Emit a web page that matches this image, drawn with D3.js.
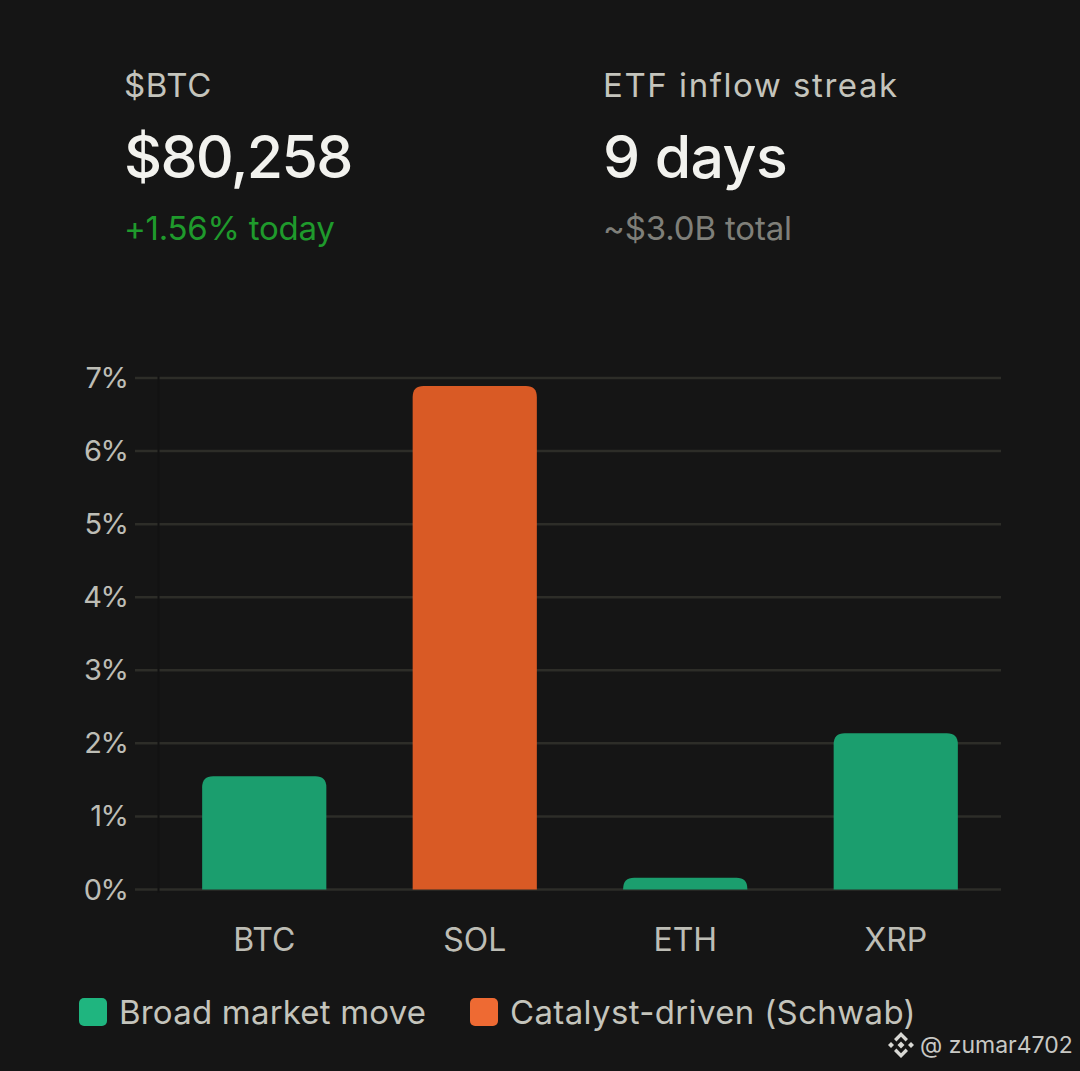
<!DOCTYPE html>
<html><head><meta charset="utf-8">
<script src="https://cdn.jsdelivr.net/npm/d3@7"></script>
<style>
html,body{margin:0;padding:0;background:#151515;overflow:hidden}
text{font-family:Inter,"Open Sans",sans-serif}
</style></head><body>
<svg id="c" width="1080" height="1071"></svg>
<script>
const categories = ["BTC","SOL","ETH","XRP"];
const values = [1.55,6.89,0.16,2.14];
const groups = ["broad","catalyst","broad","broad"];
const yTicks = [0,1,2,3,4,5,6,7];
const legendLabels = ["Broad market move","Catalyst-driven (Schwab)"];
const statTitles = ["$BTC","ETF inflow streak"];
const statValues = ["$80,258","9 days"];
const statNotes = ["+1.56% today","~$3.0B total"];

const svg = d3.select("#c");
const bg = "#151515";
svg.append("rect").attr("width",1080).attr("height",1071).attr("fill",bg);

// header stats
const statX = [124,603], noteCol = ["#1f9a2c","#7f7f79"];
const titleSpacing = [0.7,1.55], valueSpacing = [-1.7,-0.6], noteSpacing = [-0.25,-0.15];
statTitles.forEach((t,i)=>{
  svg.append("text").attr("x",statX[i]).attr("y",97).attr("font-size",33).attr("letter-spacing",titleSpacing[i]).attr("fill","#c4c4bc").text(t);
  svg.append("text").attr("x",statX[i]).attr("y",178).attr("font-size",59).attr("font-weight",550).attr("letter-spacing",valueSpacing[i]).attr("fill","#f2f2ee").text(statValues[i]);
  svg.append("text").attr("x",statX[i]).attr("y",240).attr("font-size",33).attr("letter-spacing",noteSpacing[i]).attr("fill",noteCol[i]).text(statNotes[i]);
});

// scales
const x = d3.scaleBand().domain(categories).range([159,1001]).paddingInner(0.41).paddingOuter(0.205);
const y = d3.scaleLinear().domain([0,7]).range([889.5,378]);
const color = d3.scaleOrdinal().domain(["broad","catalyst"]).range(["#1b9e6e","#d95a25"]);
const swatch = d3.scaleOrdinal().domain(["broad","catalyst"]).range(["#1fb57f","#ee6a33"]);

// grid
svg.append("g").selectAll("line").data(yTicks).join("line")
  .attr("x1",135).attr("x2",1001).attr("y1",d=>y(d)).attr("y2",d=>y(d))
  .attr("stroke","#2d2d28").attr("stroke-width",2.5);
svg.append("line").attr("x1",158.5).attr("x2",158.5).attr("y1",y(7)-2).attr("y2",y(0)+3)
  .attr("stroke","#121212").attr("stroke-width",2);

// y labels
svg.append("g").selectAll("text").data(yTicks).join("text")
  .attr("x",127.5).attr("y",d=>y(d)+10).attr("text-anchor","end")
  .attr("font-size",29).attr("letter-spacing",-1.5).attr("fill","#bdbdb5").text(d=>d+"%");

// bars with rounded tops
const r = 11;
svg.append("g").selectAll("path").data(categories).join("path")
  .attr("fill",(d,i)=>color(groups[i]))
  .attr("d",(d,i)=>{
    const l=x(d), w=x.bandwidth(), t=y(values[i]), b=y(0);
    const rr=Math.min(r,(b-t));
    return `M${l},${b}V${t+rr}Q${l},${t} ${l+rr},${t}H${l+w-rr}Q${l+w},${t} ${l+w},${t+rr}V${b}Z`;
  });

// x labels
svg.append("g").selectAll("text").data(categories).join("text")
  .attr("x",d=>x(d)+x.bandwidth()/2).attr("y",951).attr("text-anchor","middle")
  .attr("font-size",32).attr("fill","#bdbdb5").text(d=>d);

// legend
const legX = [79,470], legKeys = ["broad","catalyst"], legSpacing = [0.2,0.35];
legendLabels.forEach((t,i)=>{
  svg.append("rect").attr("x",legX[i]).attr("y",998).attr("width",28).attr("height",28).attr("rx",5).attr("fill",swatch(legKeys[i]));
  svg.append("text").attr("x",legX[i]+40).attr("y",1024).attr("font-size",33).attr("letter-spacing",legSpacing[i]).attr("fill","#c4c4bc").text(t);
});

// watermark
const wm = svg.append("g").attr("transform","translate(901,1045)").attr("fill","#d8d8d4");
wm.append("path").attr("d","M0,-13L7,-6L4.6,-3.6L0,-8.2L-4.6,-3.6L-7,-6Z");
wm.append("path").attr("d","M0,13L7,6L4.6,3.6L0,8.2L-4.6,3.6L-7,6Z");
wm.append("path").attr("d","M-13,0L-10,-3L-7,0L-10,3Z");
wm.append("path").attr("d","M13,0L10,-3L7,0L10,3Z");
wm.append("path").attr("d","M0,-3.5L3.5,0L0,3.5L-3.5,0Z");
svg.append("text").attr("x",920).attr("y",1053).attr("font-size",23).attr("fill","#c8c8c4").attr("font-family","Open Sans").text("@ zumar4702");
</script></body></html>
